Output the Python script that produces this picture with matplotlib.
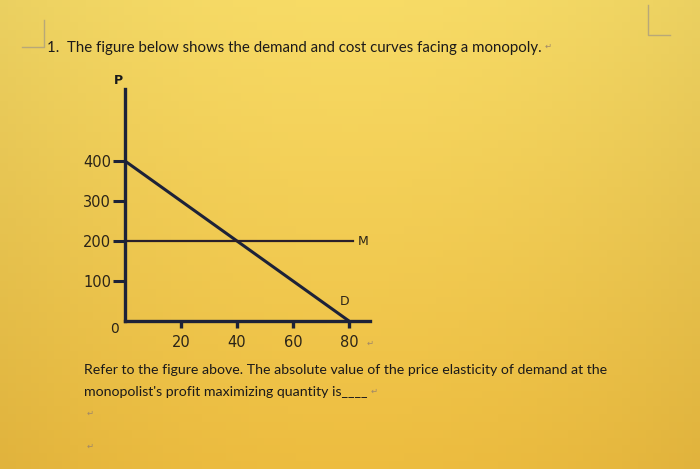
import numpy as np
import matplotlib
matplotlib.use("Agg")
import matplotlib.pyplot as plt
from matplotlib.lines import Line2D

# ---- data ----
demand_q = [0, 80]
demand_p = [400, 0]
mc_q = [0, 81.5]
mc_p = [200, 200]
x_ticks = [20, 40, 60, 80]
y_ticks = [100, 200, 300, 400]
title_text = "1.  The figure below shows the demand and cost curves facing a monopoly."
question_lines = ["Refer to the figure above. The absolute value of the price elasticity of demand at the",
                  "monopolist's profit maximizing quantity is____"]

W, H = 700, 469
fig = plt.figure(figsize=(W / 100, H / 100), dpi=100)

# background (photographed yellow page)
bg = fig.add_axes([0, 0, 1, 1])
yy, xx = np.mgrid[0:1:60j, 0:1:90j]
top = np.array([0.97, 0.86, 0.40])
bot = np.array([0.93, 0.74, 0.25])
t = yy[..., None]
img = top * (1 - t) + bot * t
edge = 1 - 0.05 * (np.abs(xx - 0.5)[..., None] * 2) ** 2
img = np.clip(img * edge, 0, 1)
bg.imshow(img, aspect="auto", extent=[0, 1, 0, 1], origin="upper")
bg.set_xlim(0, 1)
bg.set_ylim(0, 1)
bg.axis("off")

def px(x, y):
    return x / W, 1 - y / H

# corner marks
for seg in [[(44, 20), (44, 47), (22, 47)], [(648, 5), (648, 35), (670, 35)]]:
    xs, ys = zip(*[px(*p) for p in seg])
    fig.add_artist(Line2D(xs, ys, color="#b8a878", lw=1.0))

txtcol = "#1c1a1a"
fam = "Lato"
retcol = "#a08868"
t1 = fig.text(*px(47, 52), title_text, fontsize=10.8, family=fam, color=txtcol, va="baseline")
q1 = fig.text(*px(84, 374), question_lines[0], fontsize=10.2, family=fam, color=txtcol, va="baseline")
q2 = fig.text(*px(84, 396), question_lines[1], fontsize=10.2, family=fam, color=txtcol, va="baseline")
fig.text(*px(87, 416), "\u21b5", fontsize=6, color=retcol, family="DejaVu Sans")
fig.text(*px(87, 449), "\u21b5", fontsize=6, color=retcol, family="DejaVu Sans")

fig.canvas.draw()
r = fig.canvas.get_renderer()
for tt in (t1, q2):
    bb = tt.get_window_extent(r)
    fig.text((bb.x1 + 3) / W, (bb.y1 - 1) / H, "\u21b5", fontsize=6, color=retcol,
             family="DejaVu Sans", va="top")

# chart
ax = fig.add_axes([125 / W, 1 - 321 / H, 245 / W, 232 / H])
ax.set_facecolor("none")
ax.set_xlim(0, 87.5)
ax.set_ylim(0, 580)
linecol = "#1d2238"
labcol = "#2b2418"
ax.plot(demand_q, demand_p, color=linecol, lw=2.2, solid_capstyle="butt")
ax.plot(mc_q, mc_p, color="#2a1f2a", lw=1.6)
for s in ["top", "right"]:
    ax.spines[s].set_visible(False)
for s in ["left", "bottom"]:
    ax.spines[s].set_color(linecol)
    ax.spines[s].set_linewidth(2.4)
ax.set_xticks(x_ticks)
ax.set_yticks(y_ticks)
ax.set_xticklabels([str(v) for v in x_ticks])
ax.set_yticklabels([str(v) for v in y_ticks])
ax.tick_params(axis="x", direction="out", length=5, width=2.4, color=linecol,
               labelsize=10.5, labelcolor=labcol, pad=5)
ax.tick_params(axis="y", direction="out", length=9, width=2.2, color=linecol,
               labelsize=10.5, labelcolor=labcol, pad=1)
ax.text(-3.8, -20, "0", fontsize=10, color=labcol, ha="center", va="center", clip_on=False)
ax.text(-2.5, 602, "P", fontsize=9, color="#1a1a1a", ha="center", va="center", fontweight="bold",
        clip_on=False)
ax.text(83.3, 200, "M", fontsize=9, color=labcol, ha="left", va="center", clip_on=False)
ax.text(78.5, 48, "D", fontsize=9, color=labcol, ha="center", va="center")
ax.text(87.5, -55, "\u21b5", fontsize=6, color=retcol, ha="center", va="center", clip_on=False)

fig.savefig("out.png", dpi=100)
